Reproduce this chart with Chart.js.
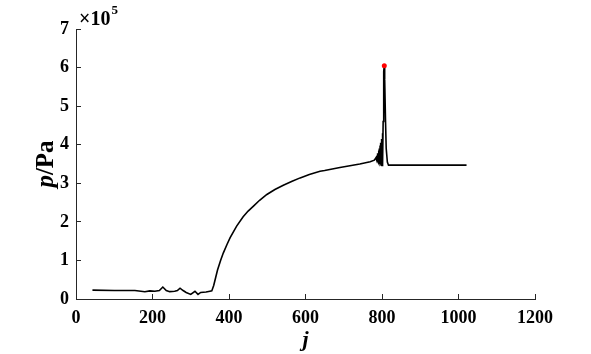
<!DOCTYPE html>
<html>
<head>
<meta charset="utf-8">
<script src="https://cdn.jsdelivr.net/npm/chart.js@4/dist/chart.umd.min.js"></script>
<style>
  html, body { margin: 0; padding: 0; background: #fff; }
  #wrap { width: 591px; height: 354px; }
</style>
</head>
<body>
<div id="wrap"><canvas id="pressure-chart" width="591" height="354"></canvas></div>
<script>
// grid index j and pressure p (Pa)
var jValues = [43, 100, 154, 180, 193, 206, 218, 227, 236, 245, 258, 265, 272, 280, 288, 300, 311, 319, 326, 340, 350, 355,
    360, 365, 370, 378, 385, 395, 403, 420, 437, 450, 464, 480, 499, 520, 542, 565, 586, 610, 638, 650, 690, 742, 769, 780,
    784, 786, 787, 788, 789, 790, 791, 792, 793, 794, 795, 796, 797, 798, 799, 800, 801, 802, 803, 804, 805, 806,
    807, 809, 811, 814, 817, 1021];
var pValues = [0.23, 0.22, 0.22, 0.19, 0.21, 0.20, 0.22, 0.31, 0.22, 0.19, 0.20, 0.22, 0.28, 0.22, 0.17, 0.12, 0.20, 0.12, 0.17, 0.18, 0.20, 0.21,
    0.35, 0.55, 0.75, 1.00, 1.19, 1.42, 1.59, 1.89, 2.13, 2.28, 2.41, 2.56, 2.71, 2.84, 2.95, 3.05, 3.14, 3.23, 3.31, 3.33, 3.41, 3.50, 3.56, 3.60,
    3.66, 3.60, 3.72, 3.58, 3.78, 3.55, 3.85, 3.52, 3.90, 3.50, 3.98, 3.48, 4.05, 3.47, 4.15, 3.46, 4.30, 3.50, 4.60, 5.30, 5.90, 6.05,
    5.70, 4.70, 3.90, 3.55, 3.47, 3.47].map(function (v) { return v * 1e5; });

var peakJ = [806];
var peakP = [6.05e5];

var xTicks = [0, 200, 400, 600, 800, 1000, 1200];
var yTicks = [0, 1, 2, 3, 4, 5, 6, 7];

var axisColor = '#262626';
var tickFont = { family: 'Liberation Serif', size: 18, weight: 'bold' };

var lineData = [];
for (var i = 0; i < jValues.length; i++) {
    lineData.push({ x: jValues[i], y: pValues[i] });
}
var peakData = [];
for (var k = 0; k < peakJ.length; k++) {
    peakData.push({ x: peakJ[k], y: peakP[k] });
}

// y label "p/Pa" and the x10^5 multiplier need mixed styles
var labelPlugin = {
    id: 'labels',
    afterDraw: function (chart) {
        var ctx = chart.ctx;
        var area = chart.chartArea;
        ctx.save();
        ctx.fillStyle = '#000';
        ctx.textBaseline = 'alphabetic';

        // multiplier
        ctx.font = 'bold 20px "Liberation Serif"';
        ctx.textAlign = 'left';
        ctx.fillText('\u00d710', area.left + 3, area.top - 4);
        var w = ctx.measureText('\u00d710').width;
        ctx.font = 'bold 13px "Liberation Serif"';
        ctx.fillText('5', area.left + 3 + w + 1, area.top - 15);

        // y title
        ctx.translate(53, (area.top + area.bottom) / 2);
        ctx.rotate(-Math.PI / 2);
        ctx.font = 'italic bold 25px "Liberation Serif"';
        var w1 = ctx.measureText('p').width;
        ctx.font = 'bold 25px "Liberation Serif"';
        var w2 = ctx.measureText('/Pa').width;
        var x0 = -(w1 + w2) / 2;
        ctx.font = 'italic bold 25px "Liberation Serif"';
        ctx.fillText('p', x0, 0);
        ctx.font = 'bold 25px "Liberation Serif"';
        ctx.fillText('/Pa', x0 + w1, 0);
        ctx.restore();
    }
};

new Chart(document.getElementById('pressure-chart').getContext('2d'), {
    type: 'scatter',
    data: {
        datasets: [{
            label: 'p',
            data: lineData,
            showLine: true,
            borderColor: '#000',
            borderWidth: 1.6,
            pointRadius: 0,
            tension: 0,
            order: 2
        }, {
            label: 'peak',
            data: peakData,
            showLine: false,
            pointRadius: 2.5,
            pointBackgroundColor: '#ff0000',
            pointBorderColor: '#ff0000',
            pointBorderWidth: 0,
            order: 1
        }]
    },
    options: {
        responsive: false,
        animation: false,
        devicePixelRatio: 1,
        layout: { padding: { left: 0, right: 56, top: 29, bottom: 0 } },
        plugins: {
            legend: { display: false },
            tooltip: { enabled: false }
        },
        scales: {
            x: {
                type: 'linear',
                min: 0,
                max: 1200,
                afterFit: function (scale) { scale.height = 55; },
                afterBuildTicks: function (scale) {
                    scale.ticks = xTicks.map(function (v) { return { value: v }; });
                },
                grid: { drawOnChartArea: false, tickLength: -5, color: axisColor, lineWidth: 1 },
                border: { color: axisColor, width: 1 },
                ticks: {
                    color: '#000',
                    font: tickFont,
                    padding: 14,
                    maxRotation: 0,
                    callback: function (v) { return String(v); }
                },
                title: {
                    display: true,
                    text: 'j',
                    color: '#000',
                    font: { family: 'Liberation Serif', size: 22, weight: 'bold', style: 'italic' },
                    padding: { top: 0, bottom: 0 }
                }
            },
            y: {
                min: 0,
                max: 7e5,
                afterFit: function (scale) { scale.width = 76; },
                afterBuildTicks: function (scale) {
                    scale.ticks = yTicks.map(function (v) { return { value: v * 1e5 }; });
                },
                grid: { drawOnChartArea: false, tickLength: -5, color: axisColor, lineWidth: 1 },
                border: { color: axisColor, width: 1 },
                ticks: {
                    color: '#000',
                    font: tickFont,
                    padding: 12,
                    callback: function (v) { return Math.round(v / 1e5); }
                }
            }
        }
    },
    plugins: [labelPlugin]
});
</script>
</body>
</html>
